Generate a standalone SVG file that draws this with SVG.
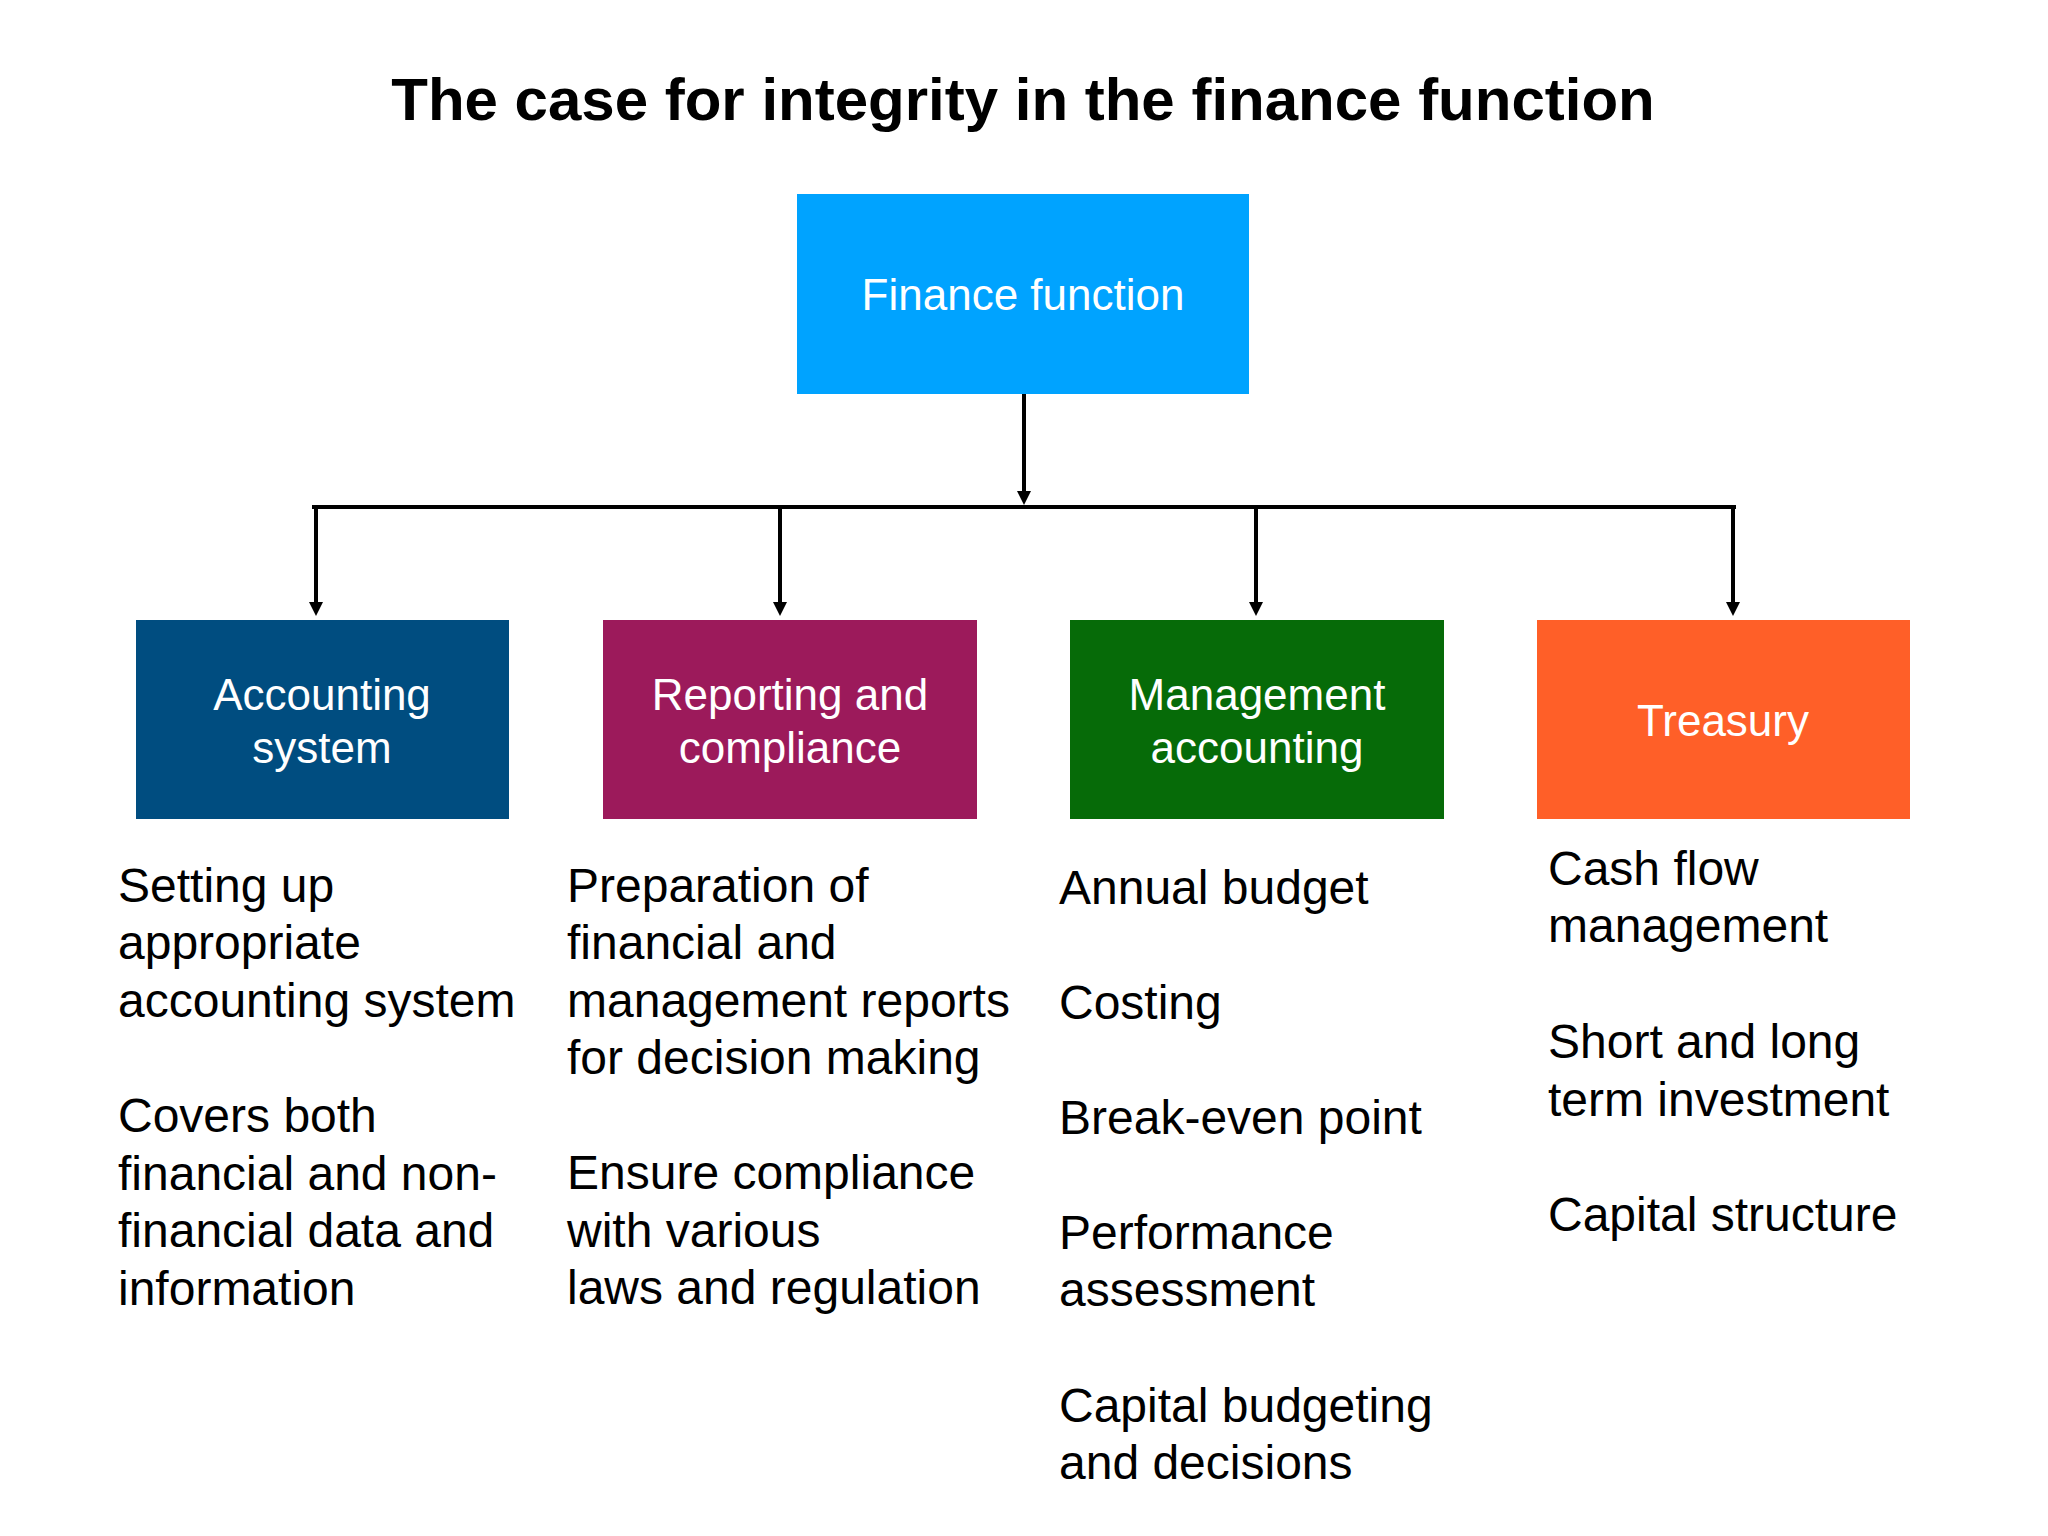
<svg xmlns="http://www.w3.org/2000/svg" width="2048" height="1536" viewBox="0 0 2048 1536">
<style>
text{font-family:"Liberation Sans",Arial,Helvetica,sans-serif}
.title{font-size:60px;font-weight:bold;fill:#000;text-anchor:middle}
.lbl{font-size:44px;fill:#fff;text-anchor:middle}
.body{font-size:48px;fill:#000}
.conn{stroke:#000;stroke-width:4;fill:none}
</style>
<defs>
<marker id="arr" markerUnits="userSpaceOnUse" markerWidth="14" markerHeight="14" viewBox="0 0 14 14" refX="6" refY="7" orient="auto">
<path d="M0,0 L14,7 L0,14 z" fill="#000"/>
</marker>
</defs>
<rect width="2048" height="1536" fill="#fff"/>
<text class="title" x="1023" y="120">The case for integrity in the finance function</text>

<g id="connectors">
<line class="conn" x1="1024" y1="394" x2="1024" y2="497" marker-end="url(#arr)"/>
<line class="conn" x1="312" y1="507" x2="1736" y2="507"/>
<line class="conn" x1="316" y1="507" x2="316" y2="608" marker-end="url(#arr)"/>
<line class="conn" x1="780" y1="507" x2="780" y2="608" marker-end="url(#arr)"/>
<line class="conn" x1="1256" y1="507" x2="1256" y2="608" marker-end="url(#arr)"/>
<line class="conn" x1="1733" y1="507" x2="1733" y2="608" marker-end="url(#arr)"/>
</g>

<g id="finance">
<rect x="797" y="194" width="452" height="200" fill="#00A3FF"/>
<text class="lbl" x="1023" y="310">Finance function</text>
</g>

<g id="accounting">
<rect x="136" y="620" width="373" height="199" fill="#004D80"/>
<text class="lbl" x="322" y="710">Accounting</text>
<text class="lbl" x="322" y="763">system</text>
</g>

<g id="reporting">
<rect x="603" y="620" width="374" height="199" fill="#9C1A5B"/>
<text class="lbl" x="790" y="710">Reporting and</text>
<text class="lbl" x="790" y="763">compliance</text>
</g>

<g id="management">
<rect x="1070" y="620" width="374" height="199" fill="#066B08"/>
<text class="lbl" x="1257" y="710">Management</text>
<text class="lbl" x="1257" y="763">accounting</text>
</g>

<g id="treasury">
<rect x="1537" y="620" width="373" height="199" fill="#FF5F28"/>
<text class="lbl" x="1723" y="736">Treasury</text>
</g>

<g id="accounting-items">
<text class="body" x="118" y="902">Setting up</text>
<text class="body" x="118" y="959">appropriate</text>
<text class="body" x="118" y="1017">accounting system</text>
<text class="body" x="118" y="1132">Covers both</text>
<text class="body" x="118" y="1190">financial and non-</text>
<text class="body" x="118" y="1247">financial data and</text>
<text class="body" x="118" y="1305">information</text>
</g>

<g id="reporting-items">
<text class="body" x="567" y="902">Preparation of</text>
<text class="body" x="567" y="959">financial and</text>
<text class="body" x="567" y="1017">management reports</text>
<text class="body" x="567" y="1074">for decision making</text>
<text class="body" x="567" y="1189">Ensure compliance</text>
<text class="body" x="567" y="1247">with various</text>
<text class="body" x="567" y="1304">laws and regulation</text>
</g>

<g id="management-items">
<text class="body" x="1059" y="904">Annual budget</text>
<text class="body" x="1059" y="1019">Costing</text>
<text class="body" x="1059" y="1134">Break-even point</text>
<text class="body" x="1059" y="1249">Performance</text>
<text class="body" x="1059" y="1306">assessment</text>
<text class="body" x="1059" y="1422">Capital budgeting</text>
<text class="body" x="1059" y="1479">and decisions</text>
</g>

<g id="treasury-items">
<text class="body" x="1548" y="885">Cash flow</text>
<text class="body" x="1548" y="942">management</text>
<text class="body" x="1548" y="1058">Short and long</text>
<text class="body" x="1548" y="1116">term investment</text>
<text class="body" x="1548" y="1231">Capital structure</text>
</g>
</svg>
